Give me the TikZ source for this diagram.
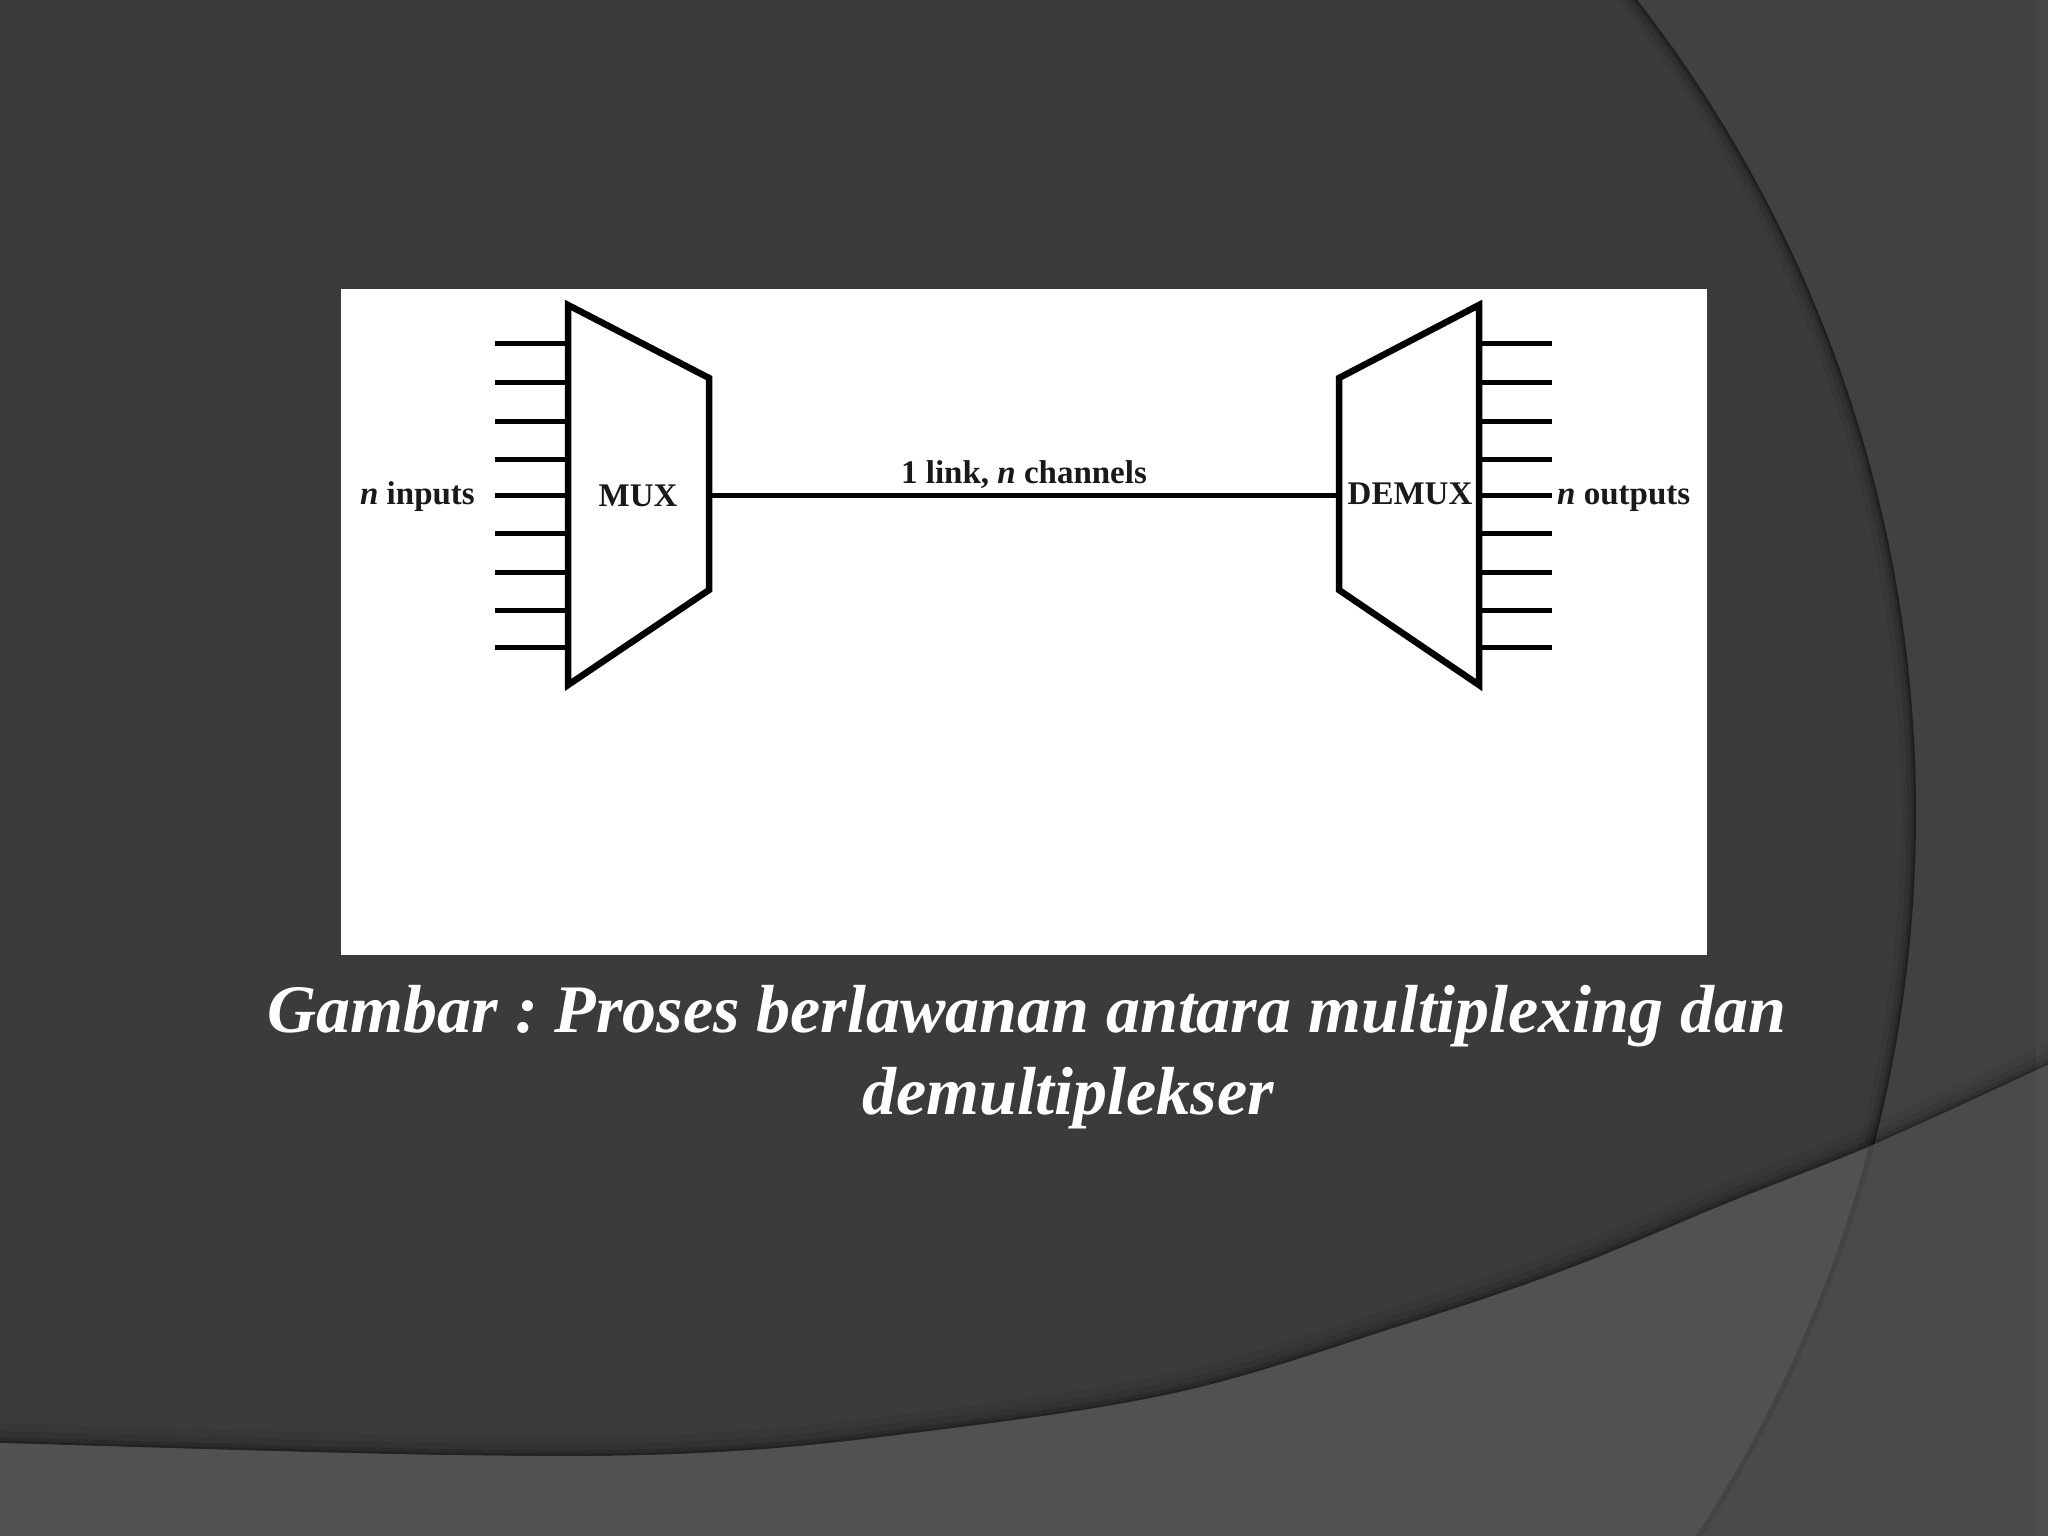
\documentclass[tikz,border=0pt]{standalone}
\usepackage{fontspec}
\setmainfont{Liberation Serif}
\frenchspacing
\definecolor{bgdark}{HTML}{3B3B3B}
\definecolor{bgout}{HTML}{414141}
\definecolor{bglow}{HTML}{515151}
\definecolor{bglowout}{HTML}{4A4A4A}
\definecolor{arcline}{HTML}{444444}
\newcommand{\lowcurve}{plot[smooth,tension=0.6] coordinates {(-20,1442) (0,1443) (446,1455) (700,1453) (914,1433) (1175,1393) (1400,1326) (1565,1270) (1730,1202) (1875,1144) (2048,1065) (2070,1055)}}
\begin{document}
\begin{tikzpicture}[x=1pt,y=-1pt,
  wire/.style={line width=5pt,black},
  trap/.style={line width=6.5pt,black,line join=miter},
  lbl/.style={inner sep=0pt,font=\fontsize{33}{36}\selectfont\bfseries,text=black!90},
  capt/.style={inner sep=0pt,font=\fontsize{68}{80}\selectfont\bfseries\itshape,text=white}]
\useasboundingbox (0,0) rectangle (2048,1536);
\begin{scope}
  \clip (0,0) rectangle (2048,1536);
  % base background
  \fill[bgout] (-10,-10) rectangle (2060,1550);
  \fill[bgdark] (592,813) circle [radius=1324];
  % shadow inside the big arc
  \begin{scope}
    \clip (592,813) circle [radius=1324];
    \foreach \w/\o in {30/0.06,18/0.10,9/0.15,4/0.22}
      \draw[black,opacity=\o,line width=\w pt] (592,813) circle [radius=1324];
  \end{scope}
  % shadow above the lower band
  \begin{scope}
    \clip \lowcurve -- (2070,-20) -- (-20,-20) -- cycle;
    \foreach \w/\o in {40/0.05,24/0.08,12/0.12,5/0.18}
      \draw[black,opacity=\o,line width=\w pt] \lowcurve;
  \end{scope}
  % lower band
  \fill[bglow] \lowcurve -- (2070,1560) -- (-20,1560) -- cycle;
  \begin{scope}
    \clip \lowcurve -- (2070,1560) -- (-20,1560) -- cycle;
    \fill[bglowout,even odd rule] (-10,-10) rectangle (2060,1550) (592,813) circle [radius=1324];
    \draw[arcline,line width=5pt] (592,813) circle [radius=1322];
  \end{scope}
  % faint right edge strip
  \fill[white,opacity=0.03] (2036,0) rectangle (2048,1536);
\end{scope}

% white picture area
\fill[white] (341,289) rectangle (1707,955);

% MUX
\draw[trap] (568,305) -- (709,378) -- (709,590) -- (568,685) -- cycle;
\foreach \yy [count=\i] in {343,382,421,459,495,533,572,610,647} {
  \coordinate (in\i) at (495,\yy);
  \coordinate (mi\i) at (568,\yy);
  \draw[wire] (in\i) -- (mi\i);
}
\node[lbl,anchor=base] (mux) at (638,506) {MUX};
\node[lbl,anchor=base east] (inputs) at (475,504) {\textit{n} inputs};

% DEMUX
\draw[trap] (1339,378) -- (1479,305) -- (1479,685) -- (1339,590) -- cycle;
\foreach \yy [count=\i] in {343,382,421,459,495,533,572,610,647} {
  \coordinate (do\i) at (1479,\yy);
  \coordinate (out\i) at (1552,\yy);
  \draw[wire] (do\i) -- (out\i);
}
\node[lbl,anchor=base] (demux) at (1410,504) {DEMUX};
\node[lbl,anchor=base west] (outputs) at (1557,504) {\textit{n} outputs};

% link
\coordinate (muxout) at (709,495);
\coordinate (demuxin) at (1339,495);
\draw[wire] (muxout) -- (demuxin);
\node[lbl,anchor=base] (link) at (1024,483) {1 link, \textit{n} channels};

% caption
\node[capt,anchor=base] (cap1) at (1027,1032) {Gambar : Proses berlawanan antara multiplexing dan};
\node[capt,anchor=base] (cap2) at (1068,1114) {demultiplekser};
\end{tikzpicture}
\end{document}
